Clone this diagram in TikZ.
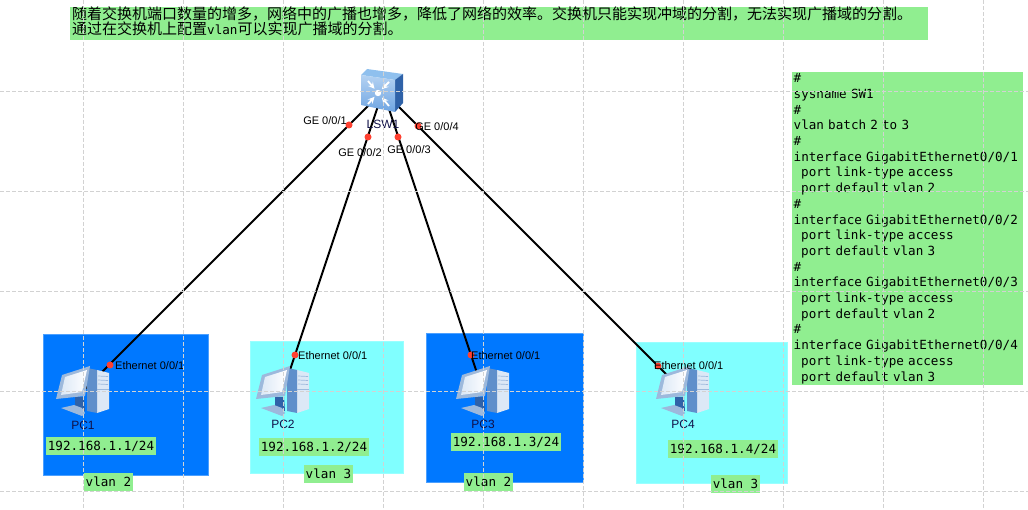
\documentclass[tikz,border=0pt]{standalone}
\usepackage{fontspec}
\setmainfont{Liberation Sans}
\setmonofont[WordSpace=1]{DejaVu Sans Mono}
\newfontfamily\cjk{Noto Sans CJK SC}
\usepackage{xcolor}
\usepackage{tikz}
\usetikzlibrary{arrows}
\definecolor{labgreen}{HTML}{90EE90}
\definecolor{vblue}{HTML}{0078FF}
\definecolor{vcyan}{HTML}{80FFFF}
\definecolor{portred}{HTML}{FF4030}
\definecolor{pcnavy}{HTML}{101048}
\definecolor{gridgray}{HTML}{D2D2D2}
\definecolor{icondark}{HTML}{2F62A8}
\definecolor{iconmid}{HTML}{5F8FCB}
\definecolor{iconpale}{HTML}{DCE8F6}
\definecolor{iconframe}{HTML}{9DB9DC}
\definecolor{swtop}{HTML}{8FC0EE}
\definecolor{swfront}{HTML}{B4D2F2}
\definecolor{swlow}{HTML}{6FA5E2}
\tikzset{
    vlanblue/.style={fill=vblue, draw=vblue!70!white, line width=0.6pt, anchor=north west, inner sep=0pt},
    vlancyan/.style={fill=vcyan, draw=vcyan!80!white, line width=0.6pt, anchor=north west, inner sep=0pt},
    iplabel/.style={fill=labgreen, inner sep=0pt, minimum width=110pt, minimum height=18pt, font=\ttfamily\fontsize{12.6}{14}\selectfont},
    vlanlabel/.style={fill=labgreen, inner sep=0pt, minimum width=49pt, minimum height=18pt, font=\ttfamily\fontsize{12.6}{14}\selectfont},
    portdot/.style={circle, fill=portred, inner sep=0pt, minimum size=7pt},
    portlabel/.style={inner sep=0pt, font=\fontsize{11}{12}\selectfont},
    devlabel/.style={inner sep=0pt, text=pcnavy, font=\fontsize{12}{13}\selectfont},
    link/.style={line width=2pt, black},
    pcicon/.pic={
        % tower
        \fill[iconpale] (14,-21) -- (26,-18) -- (26,18) -- (14,22) -- cycle;
        \fill[iconmid] (4,-23) -- (14,-21) -- (14,22) -- (4,20) -- cycle;
        \foreach \yy in {-15,-11,-7}
            \draw[iconframe, line width=0.7pt] (15,\yy) -- (25,\yy+0.5);
        \draw[iconframe, line width=0.5pt] (14,-2) -- (26,-2);
        % stand and base
        \fill[icondark] (-8,6) -- (1,6) -- (2,20) -- (-8,17) -- cycle;
        \fill[iconframe] (-22,17) -- (-9,14) -- (-1,17) -- (2,22) -- (-1,25) -- cycle;
        % monitor
        \fill[iconframe] (-21,-16) -- (7,-25) -- (2,5) -- (-27,8) -- cycle;
        \shade[left color=iconpale, right color=white] (-18,-14) -- (4,-21) -- (-1,1) -- (-22,4) -- cycle;
    },
    swicon/.pic={
        \fill[swtop] (-22,-16) -- (-16,-22) -- (20,-17) -- (12,-11) -- cycle;
        \fill[icondark] (12,-11) -- (20,-17) -- (20,12) -- (12,21) -- cycle;
        \shade[top color=swfront, bottom color=swlow] (-22,-16) -- (12,-11) -- (12,21) -- (-22,14) -- cycle;
        \fill[white] (-5,2) circle (3.2pt);
        \foreach \ax/\ay in {-15/-10,6/-9,-15/13,6/15}
            \draw[white, line width=1.8pt, -stealth] (\ax,\ay) -- ({-5+(\ax+5)*0.35},{2+(\ay-2)*0.35});
    }
}
\begin{document}
\begin{tikzpicture}[x=1pt,y=-1pt]
    \useasboundingbox (0,0) rectangle (1028,510);
    % vlan areas
    \node[vlanblue, minimum width=165pt, minimum height=141pt] at (43,334) (area1) {};
    \node[vlancyan, minimum width=153pt, minimum height=132pt] at (250,341) (area2) {};
    \node[vlanblue, minimum width=157pt, minimum height=149pt] at (426,333) (area3) {};
    \node[vlancyan, minimum width=151pt, minimum height=141pt] at (636,342) (area4) {};
    % devices
    \coordinate (sw1) at (383,91);
    \coordinate (pc1) at (83,391);
    \coordinate (pc2) at (283,391);
    \coordinate (pc3) at (483,391);
    \coordinate (pc4) at (683,391);
    \foreach \pcname in {pc1,pc2,pc3,pc4}
        \draw[link] (sw1) -- (\pcname);
    \pic at (sw1) {swicon};
    \foreach \pcname in {pc1,pc2,pc3,pc4}
        \pic at (\pcname) {pcicon};
    \node[devlabel] at (383,124) (lsw) {LSW1};
    \node[devlabel] at (83,425) (pctext1) {PC1};
    \node[devlabel] at (283,424) (pctext2) {PC2};
    \node[devlabel] at (483,424) (pctext3) {PC3};
    \node[devlabel] at (683,424) (pctext4) {PC4};
    % ports
    \node[portdot] at (349,125) (ge1) {};
    \node[portdot] at (368,137) (ge2) {};
    \node[portdot] at (398,137) (ge3) {};
    \node[portdot] at (418,126) (ge4) {};
    \node[portdot] at (110,365) (eth1) {};
    \node[portdot] at (295,355) (eth2) {};
    \node[portdot] at (471,355) (eth3) {};
    \node[portdot] at (658,366) (eth4) {};
    \node[portlabel] at (325,121) (getext1) {GE 0/0/1};
    \node[portlabel] at (360,153) (getext2) {GE 0/0/2};
    \node[portlabel] at (409,150) (getext3) {GE 0/0/3};
    \node[portlabel] at (437,127) (getext4) {GE 0/0/4};
    \node[portlabel, anchor=west] at (115,366) (ethtext1) {Ethernet 0/0/1};
    \node[portlabel, anchor=west] at (298,356) (ethtext2) {Ethernet 0/0/1};
    \node[portlabel, anchor=west] at (471,356) (ethtext3) {Ethernet 0/0/1};
    \node[portlabel, anchor=west] at (654,366) (ethtext4) {Ethernet 0/0/1};
    % addresses
    \node[iplabel] at (101,446) (ip1) {192.168.1.1/24};
    \node[iplabel] at (314,447) (ip2) {192.168.1.2/24};
    \node[iplabel] at (506,442) (ip3) {192.168.1.3/24};
    \node[iplabel] at (723,449) (ip4) {192.168.1.4/24};
    \node[vlanlabel] at (108.5,482) (vl1) {vlan 2};
    \node[vlanlabel] at (328.5,474) (vl2) {vlan 3};
    \node[vlanlabel] at (488.5,482) (vl3) {vlan 2};
    \node[vlanlabel] at (735.5,484) (vl4) {vlan 3};
    % notes
    \node[fill=labgreen, anchor=north west, inner sep=0pt, minimum width=858pt, minimum height=33pt] at (70,7) (topbox) {};
    \node[anchor=north west, inner sep=0pt, align=left, font=\cjk\fontsize{15}{15}\selectfont] at (72,7) (toptext) {随着交换机端口数量的增多，网络中的广播也增多，降低了网络的效率。交换机只能实现冲域的分割，无法实现广播域的分割。\\通过在交换机上配置{\ttfamily\fontsize{12.6}{15}\selectfont vlan}可以实现广播域的分割。};
    \node[fill=labgreen, anchor=north west, inner xsep=1.5pt, inner ysep=0pt, minimum width=231pt, minimum height=313pt, align=left, text width=228pt, font=\ttfamily\fontsize{12.6}{15.7}\selectfont] at (792,72) (config) {\#\\
sysname SW1\\
\#\\
vlan batch 2 to 3\\
\#\\
interface GigabitEthernet0/0/1\\
\hspace*{7.5pt}port link-type access\\
\hspace*{7.5pt}port default vlan 2\\
\#\\
interface GigabitEthernet0/0/2\\
\hspace*{7.5pt}port link-type access\\
\hspace*{7.5pt}port default vlan 3\\
\#\\
interface GigabitEthernet0/0/3\\
\hspace*{7.5pt}port link-type access\\
\hspace*{7.5pt}port default vlan 2\\
\#\\
interface GigabitEthernet0/0/4\\
\hspace*{7.5pt}port link-type access\\
\hspace*{7.5pt}port default vlan 3};
    % grid over everything
    \foreach \gx in {83,183,...,983}
        \draw[gridgray, dash pattern=on 4pt off 2pt, line width=0.6pt] (\gx,0) -- (\gx,510);
    \foreach \gy in {91,191,...,491}
        \draw[gridgray, dash pattern=on 4pt off 2pt, line width=0.6pt] (0,\gy) -- (1028,\gy);
\end{tikzpicture}
\end{document}
